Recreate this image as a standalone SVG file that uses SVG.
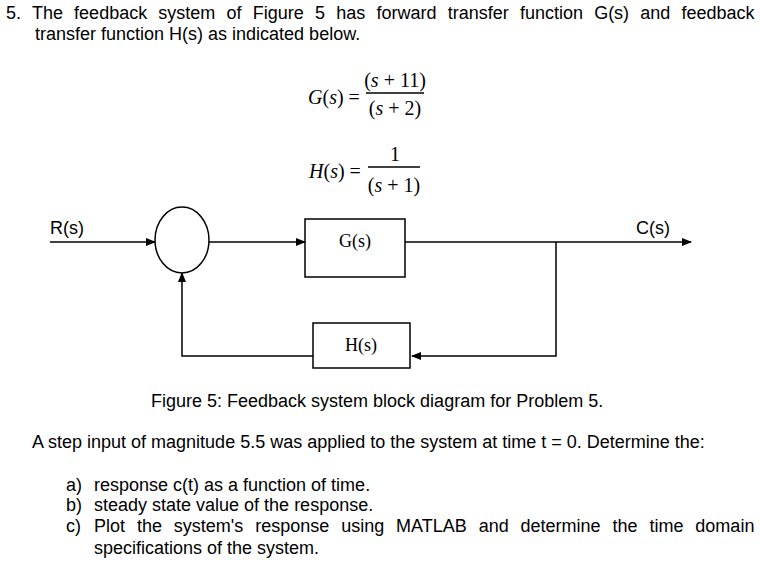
<svg xmlns="http://www.w3.org/2000/svg" width="760" height="562" viewBox="0 0 760 562">
<style>
.t{font-family:"Liberation Sans",Arial,sans-serif;font-size:18px;fill:#000}
.m{font-family:"Liberation Serif","Times New Roman",serif;font-size:20px;fill:#000}
.b{font-family:"Liberation Serif","Times New Roman",serif;font-size:18px;fill:#000}
.i{font-style:italic}
.s{stroke:#000;stroke-width:1.5;fill:none}
</style>
<defs><marker id="a" markerWidth="10" markerHeight="8" refX="9" refY="4" orient="auto" markerUnits="userSpaceOnUse"><path d="M0,0L10,4L0,8z" fill="#000"/></marker></defs>
<rect width="760" height="562" fill="#fff"/>
<text class="t" x="6" y="19" word-spacing="6.2">5. The feedback system of Figure 5 has forward transfer function G(s) and feedback</text>
<text class="t" x="35" y="40">transfer function H(s) as indicated below.</text>
<g id="eqG"><text class="m" x="308" y="104"><tspan class="i">G</tspan>(<tspan class="i">s</tspan>) =</text>
<text class="m" x="395" y="87" text-anchor="middle">(<tspan class="i">s</tspan> + 11)</text>
<line class="s" x1="366" y1="93" x2="424" y2="93" stroke-width="1"/>
<text class="m" x="395" y="115" text-anchor="middle">(<tspan class="i">s</tspan> + 2)</text></g>
<g id="eqH"><text class="m" x="309" y="178"><tspan class="i">H</tspan>(<tspan class="i">s</tspan>) =</text>
<text class="m" x="395" y="161" text-anchor="middle">1</text>
<line class="s" x1="368" y1="167" x2="420" y2="167" stroke-width="1"/>
<text class="m" x="394" y="192" text-anchor="middle">(<tspan class="i">s</tspan> + 1)</text></g>
<g id="sum"><ellipse class="s" cx="182" cy="240" rx="27" ry="33"/></g>
<g id="G"><rect class="s" x="305" y="219" width="100" height="58"/><text class="b" x="355" y="247" text-anchor="middle">G(s)</text></g>
<g id="H"><rect class="s" x="313" y="323" width="97" height="45"/><text class="b" x="361" y="351" text-anchor="middle">H(s)</text></g>
<g id="connectors" class="s">
<line x1="50" y1="242" x2="155" y2="242" marker-end="url(#a)"/>
<line x1="209" y1="242" x2="305" y2="242" marker-end="url(#a)"/>
<line x1="405" y1="242" x2="691" y2="242" marker-end="url(#a)"/>
<polyline points="556,242 556,356 412,356" marker-end="url(#a)"/>
<polyline points="313,356 182,356 182,273" marker-end="url(#a)"/>
</g>
<text class="t" x="50" y="234">R(s)</text>
<text class="t" x="636" y="234">C(s)</text>
<text class="t" x="151" y="407">Figure 5: Feedback system block diagram for Problem 5.</text>
<text class="t" x="32" y="448">A step input of magnitude 5.5 was applied to the system at time t = 0. Determine the:</text>
<text class="t" x="66" y="491">a)</text><text class="t" x="94" y="491">response c(t) as a function of time.</text>
<text class="t" x="66" y="511">b)</text><text class="t" x="94" y="511">steady state value of the response.</text>
<text class="t" x="66" y="532">c)</text>
<text class="t" x="94" y="532" word-spacing="6.9">Plot the system's response using MATLAB and determine the time domain</text>
<text class="t" x="94" y="554">specifications of the system.</text>
</svg>
